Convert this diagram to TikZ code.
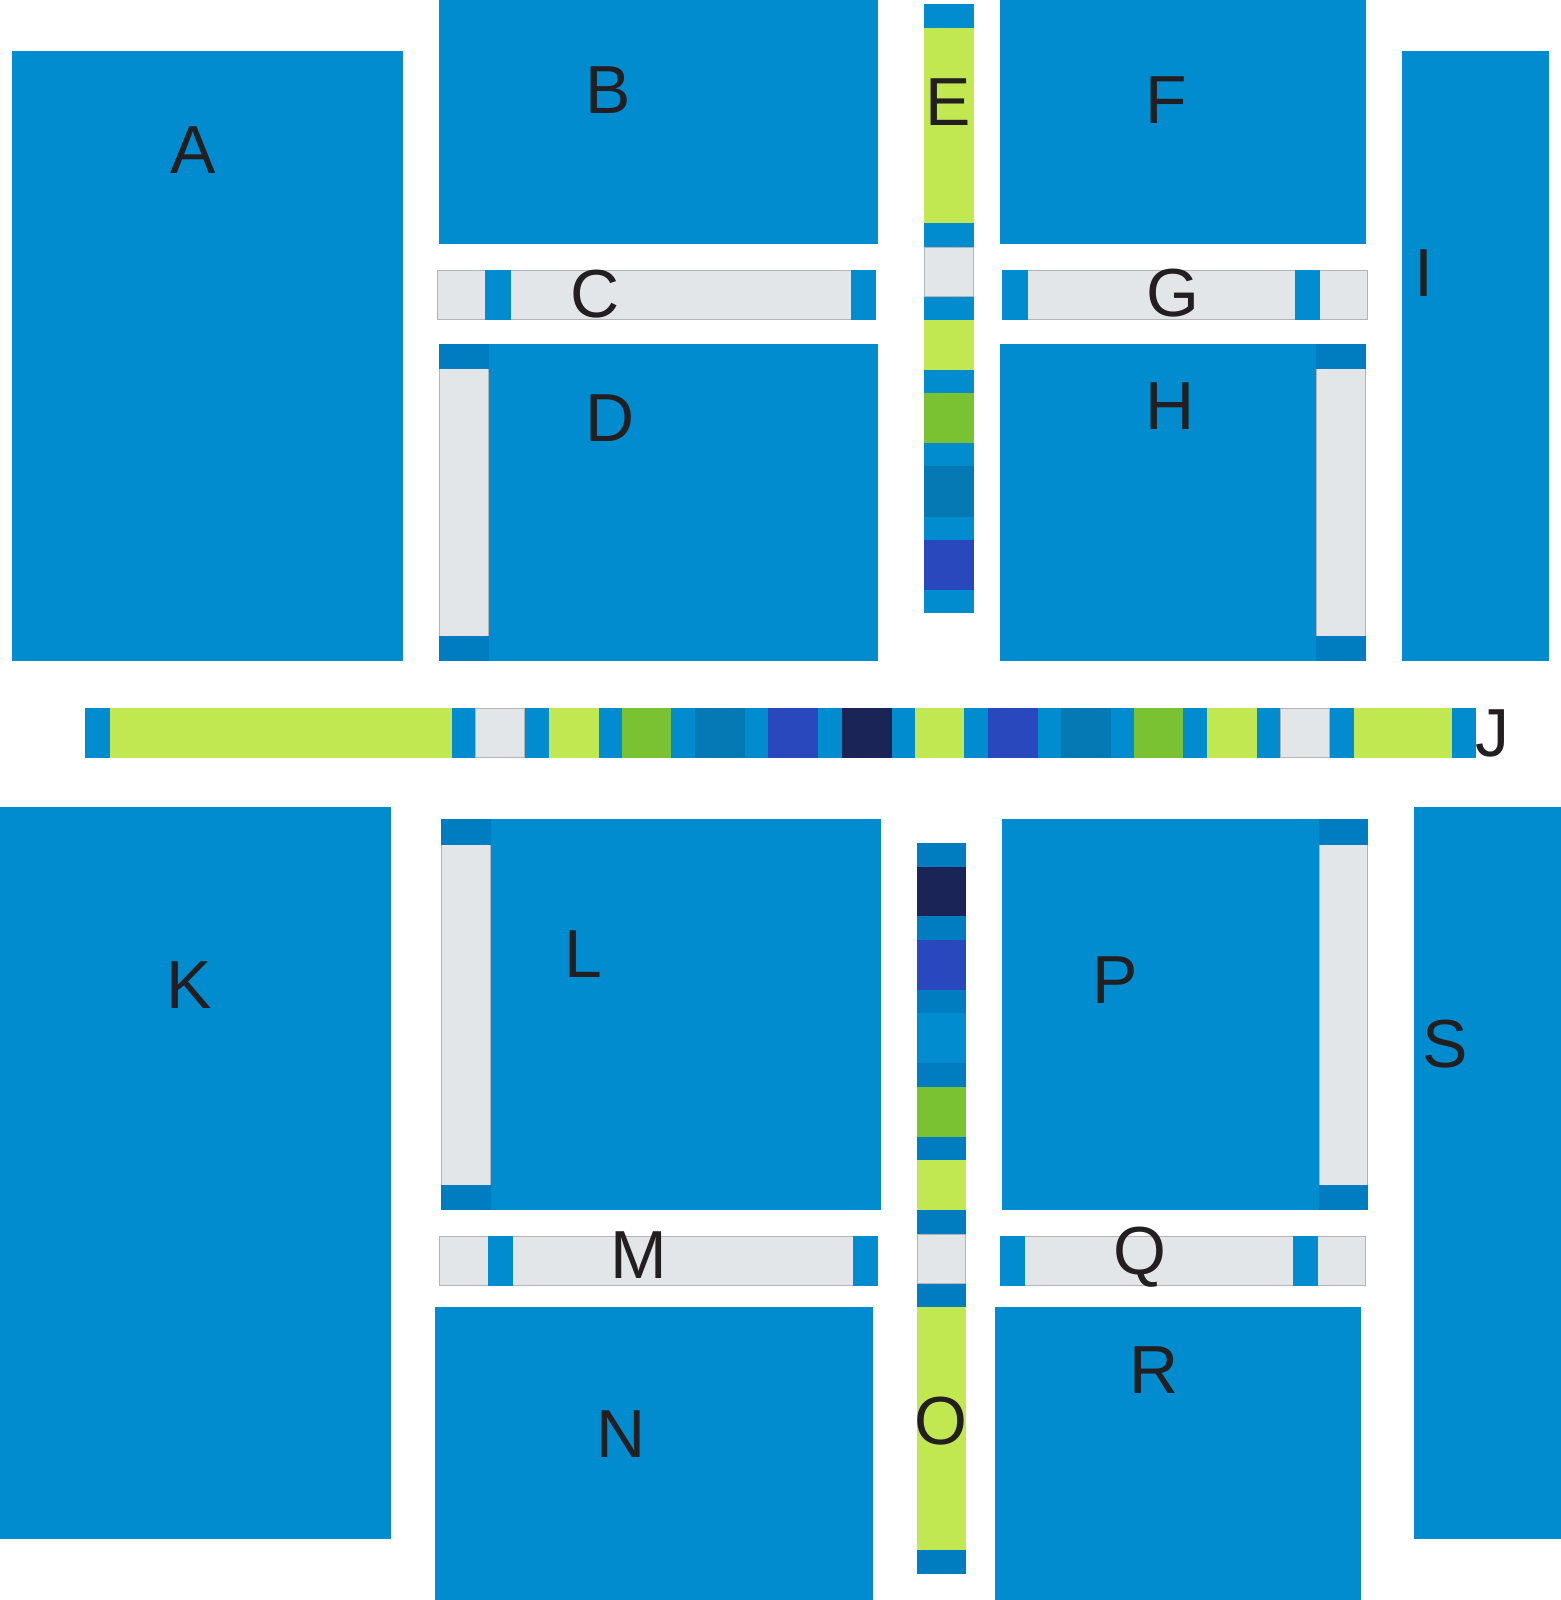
\documentclass[tikz,border=0pt]{standalone}
\usepackage{fontspec}
\setmainfont{Liberation Sans}
\definecolor{zoneblue}{RGB}{0,140,207}
\definecolor{capblue}{RGB}{0,124,193}
\definecolor{pathgrey}{RGB}{227,230,233}
\definecolor{edgegrey}{RGB}{178,180,184}
\definecolor{limegreen}{RGB}{194,232,81}
\definecolor{grassgreen}{RGB}{122,194,49}
\definecolor{deepteal}{RGB}{5,121,179}
\definecolor{royalblue}{RGB}{42,72,190}
\definecolor{nightblue}{RGB}{26,36,86}
\definecolor{ink}{RGB}{35,31,32}
\tikzset{
  zone/.style={draw=zoneblue,fill=zoneblue},
  capzone/.style={draw=capblue,fill=capblue},
  walk/.style={draw=edgegrey,fill=pathgrey,line width=0.4pt},
  lime/.style={draw=limegreen,fill=limegreen},
  grass/.style={draw=grassgreen,fill=grassgreen},
  deep/.style={draw=deepteal,fill=deepteal},
  royal/.style={draw=royalblue,fill=royalblue},
  night/.style={draw=nightblue,fill=nightblue},
  letter/.style={text=ink,inner sep=0pt,font=\fontsize{34}{34}\selectfont}
}
\begin{document}
\begin{tikzpicture}[x=0.5pt,y=-0.5pt]
      \useasboundingbox (0,0) rectangle (1561,1600);
      % upper half
      \draw[zone] (12,51) rectangle (402,660);
      \draw[zone] (439,0) rectangle (877,243);
      \draw[walk] (437,270) rectangle (875,319);
      \draw[zone] (485,270) rectangle (510,319);
      \draw[zone] (851,270) rectangle (875,319);
      \draw[zone] (439,344) rectangle (877,660);
      \draw[walk] (439,368) rectangle (488,636);
      \draw[capzone] (439,344) rectangle (488,368);
      \draw[capzone] (439,636) rectangle (488,660);
      \draw[zone] (924,4) rectangle (973,612);
      \draw[lime] (924,28) rectangle (973,222);
      \draw[walk] (924,247) rectangle (973,296);
      \draw[lime] (924,320) rectangle (973,369);
      \draw[grass] (924,393) rectangle (973,442);
      \draw[deep] (924,466) rectangle (973,516);
      \draw[royal] (924,540) rectangle (973,589);
      \draw[zone] (1000,0) rectangle (1365,243);
      \draw[walk] (1002,270) rectangle (1367,319);
      \draw[zone] (1002,270) rectangle (1027,319);
      \draw[zone] (1295,270) rectangle (1319,319);
      \draw[zone] (1000,344) rectangle (1365,660);
      \draw[walk] (1316,368) rectangle (1365,636);
      \draw[capzone] (1316,344) rectangle (1365,368);
      \draw[capzone] (1316,636) rectangle (1365,660);
      \draw[zone] (1402,51) rectangle (1548,660);
      % middle band
      \draw[zone] (85,708) rectangle (1475,757);
      \draw[lime] (110,708) rectangle (451,757);
      \draw[walk] (475.5,708) rectangle (524.5,757);
      \draw[lime] (549,708) rectangle (598,757);
      \draw[grass] (622,708) rectangle (670,757);
      \draw[deep] (695,708) rectangle (744,757);
      \draw[royal] (768,708) rectangle (817,757);
      \draw[night] (842,708) rectangle (891,757);
      \draw[lime] (915,708) rectangle (963,757);
      \draw[royal] (988,708) rectangle (1037,757);
      \draw[deep] (1061,708) rectangle (1110,757);
      \draw[grass] (1134.5,708) rectangle (1182.5,757);
      \draw[lime] (1207,708) rectangle (1256,757);
      \draw[walk] (1280.5,708) rectangle (1329.5,757);
      \draw[lime] (1354,708) rectangle (1451,757);
      % lower half
      \draw[zone] (0,807) rectangle (390,1538);
      \draw[zone] (441,819) rectangle (880,1209);
      \draw[walk] (441,844) rectangle (490,1185);
      \draw[capzone] (441,819) rectangle (490,844);
      \draw[capzone] (441,1185) rectangle (490,1209);
      \draw[walk] (439,1236) rectangle (877,1285);
      \draw[zone] (488,1236) rectangle (512,1285);
      \draw[zone] (853,1236) rectangle (877,1285);
      \draw[zone] (435,1307) rectangle (872,1600);
      \draw[capzone] (917,843) rectangle (965,1573);
      \draw[night] (917,867) rectangle (965,915);
      \draw[royal] (917,940) rectangle (965,989);
      \draw[zone] (917,1013) rectangle (965,1062);
      \draw[grass] (917,1087) rectangle (965,1136);
      \draw[lime] (917,1160) rectangle (965,1209);
      \draw[walk] (917,1234) rectangle (965,1283);
      \draw[lime] (917,1307) rectangle (965,1549);
      \draw[zone] (1002,819) rectangle (1367,1209);
      \draw[walk] (1319,844) rectangle (1367,1185);
      \draw[capzone] (1319,819) rectangle (1367,844);
      \draw[capzone] (1319,1185) rectangle (1367,1209);
      \draw[walk] (1000,1236) rectangle (1365,1285);
      \draw[zone] (1000,1236) rectangle (1024,1285);
      \draw[zone] (1293,1236) rectangle (1317,1285);
      \draw[zone] (995,1307) rectangle (1360,1600);
      \draw[zone] (1414,807) rectangle (1560,1538);
      % labels
      \node[letter] (labA) at (193,150) {A};
      \node[letter] (labB) at (608,90) {B};
      \node[letter] (labC) at (595,294) {C};
      \node[letter] (labD) at (610,418) {D};
      \node[letter] (labE) at (948,102) {E};
      \node[letter] (labF) at (1166,100) {F};
      \node[letter] (labG) at (1173,293) {G};
      \node[letter] (labH) at (1170,406) {H};
      \node[letter] (labI) at (1424,273) {I};
      \node[letter] (labJ) at (1492,733) {J};
      \node[letter] (labK) at (189,985) {K};
      \node[letter] (labL) at (583,954) {L};
      \node[letter] (labM) at (639,1255) {M};
      \node[letter] (labN) at (621,1434) {N};
      \node[letter] (labO) at (941,1421) {O};
      \node[letter] (labP) at (1115,980) {P};
      \node[letter] (labQ) at (1140,1257) {Q};
      \node[letter] (labR) at (1154,1370) {R};
      \node[letter] (labS) at (1445,1044) {S};
    \end{tikzpicture}
\end{document}
